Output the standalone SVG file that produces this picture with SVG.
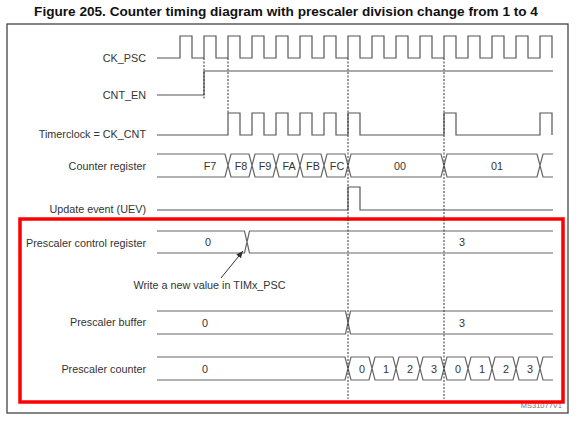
<svg xmlns="http://www.w3.org/2000/svg" width="578" height="424" viewBox="0 0 578 424">
<style>
.lbl{font-family:"Liberation Sans",Arial,sans-serif;font-size:10.8px;fill:#333;text-anchor:end}
.val{font-family:"Liberation Sans",Arial,sans-serif;font-size:10.8px;fill:#333;text-anchor:middle}
.sig{fill:none;stroke:#555;stroke-width:1.2}
.bus{fill:none;stroke:#666;stroke-width:1.2}
.dash{fill:none;stroke:#333;stroke-width:1;stroke-dasharray:2 1.5}
</style>
<defs>
<marker id="ah" markerWidth="8" markerHeight="8" refX="7" refY="4" orient="auto" markerUnits="userSpaceOnUse">
<path d="M0,1 L7,4 L0,7 Z" fill="#333"/>
</marker>
</defs>
<rect width="578" height="424" fill="#fff"/>
<text x="286" y="15.5" font-family="Liberation Sans,Arial,sans-serif" font-size="13.6" font-weight="bold" text-anchor="middle" fill="#111">Figure 205. Counter timing diagram with prescaler division change from 1 to 4</text>
<rect x="7" y="24" width="561" height="389" fill="none" stroke="#444" stroke-width="1.3"/>

<g id="ck_psc">
<text class="lbl" x="146" y="62">CK_PSC</text>
<path class="sig" d="M157,58 H180V36H192V58 H204V36H216V58 H228V36H240V58 H252V36H264V58 H276V36H288V58 H300V36H312V58 H324V36H336V58 H348V36H360V58 H372V36H384V58 H396V36H408V58 H420V36H432V58 H444V36H456V58 H468V36H480V58 H492V36H504V58 H516V36H528V58 H540V36H552V58"/>
</g>
<g id="cnt_en">
<text class="lbl" x="146" y="99">CNT_EN</text>
<path class="sig" d="M157,95 H204 V71 H553"/>
</g>
<g id="timerclock">
<text class="lbl" x="146" y="138">Timerclock = CK_CNT</text>
<path class="sig" d="M157,135 H228V113H240V135 H252V113H264V135 H276V113H288V135 H300V113H312V135 H324V113H336V135 H348V113H360V135 H444V113H456V135 H540V113H552V135"/>
</g>
<g id="counter_register">
<text class="lbl" x="146" y="170">Counter register</text>
<path class="bus" d="M157,154 H225 L228,165.5 L225,177 H157
M231,154 H249 L252,165.5 L249,177 H231 L228,165.5 Z
M255,154 H273 L276,165.5 L273,177 H255 L252,165.5 Z
M279,154 H297 L300,165.5 L297,177 H279 L276,165.5 Z
M303,154 H321 L324,165.5 L321,177 H303 L300,165.5 Z
M327,154 H345 L348,165.5 L345,177 H327 L324,165.5 Z
M351,154 H441 L444,165.5 L441,177 H351 L348,165.5 Z
M447,154 H537 L540,165.5 L537,177 H447 L444,165.5 Z
M553,154 H543 L540,165.5 L543,177 H553"/>
<text class="val" x="210" y="169.5">F7</text>
<text class="val" x="241" y="169.5">F8</text>
<text class="val" x="265" y="169.5">F9</text>
<text class="val" x="289" y="169.5">FA</text>
<text class="val" x="313" y="169.5">FB</text>
<text class="val" x="337" y="169.5">FC</text>
<text class="val" x="400" y="169.5">00</text>
<text class="val" x="497" y="169.5">01</text>
</g>
<g id="update_event">
<text class="lbl" x="146" y="213">Update event (UEV)</text>
<path class="sig" d="M157,210 H348 V187 H360 V210 H553"/>
</g>

<text x="562" y="408" font-family="Liberation Sans,Arial,sans-serif" font-size="7.5" fill="#777" text-anchor="end">MS31077V1</text>
<rect id="highlight" x="20" y="219" width="543" height="183" fill="none" stroke="#ff0000" stroke-width="3.5"/>

<g id="prescaler_control">
<text class="lbl" x="146" y="246.5">Prescaler control register</text>
<path class="bus" d="M157,231 H244.5 L247,242 L244.5,253 H157
M553,231 H249.5 L247,242 L249.5,253 H553"/>
<text class="val" x="208" y="246">0</text>
<text class="val" x="462" y="246">3</text>
</g>
<g id="prescaler_buffer">
<text class="lbl" x="146" y="326">Prescaler buffer</text>
<path class="bus" d="M157,311 H345.5 L348,322.5 L345.5,334 H157
M553,311 H350.5 L348,322.5 L350.5,334 H553"/>
<text class="val" x="205" y="326.5">0</text>
<text class="val" x="462" y="326.5">3</text>
</g>
<g id="prescaler_counter">
<text class="lbl" x="146" y="373">Prescaler counter</text>
<path class="bus" d="M157,357 H345 L348,368.5 L345,380 H157
M351,357 H369 L372,368.5 L369,380 H351 L348,368.5 Z
M375,357 H393 L396,368.5 L393,380 H375 L372,368.5 Z
M399,357 H417 L420,368.5 L417,380 H399 L396,368.5 Z
M423,357 H441 L444,368.5 L441,380 H423 L420,368.5 Z
M447,357 H465 L468,368.5 L465,380 H447 L444,368.5 Z
M471,357 H489 L492,368.5 L489,380 H471 L468,368.5 Z
M495,357 H513 L516,368.5 L513,380 H495 L492,368.5 Z
M519,357 H537 L540,368.5 L537,380 H519 L516,368.5 Z
M553,357 H543 L540,368.5 L543,380 H553"/>
<text class="val" x="205" y="372.5">0</text>
<text class="val" x="362" y="372.5">0</text>
<text class="val" x="386" y="372.5">1</text>
<text class="val" x="410" y="372.5">2</text>
<text class="val" x="434" y="372.5">3</text>
<text class="val" x="458" y="372.5">0</text>
<text class="val" x="482" y="372.5">1</text>
<text class="val" x="506" y="372.5">2</text>
<text class="val" x="530" y="372.5">3</text>
</g>
<g id="note">
<text class="val" x="209.5" y="289">Write a new value in TIMx_PSC</text>
</g>

<g id="connectors">
<line class="dash" x1="204" y1="58" x2="204" y2="100"/>
<line class="dash" x1="228" y1="58" x2="228" y2="113"/>
<line class="dash" x1="348" y1="58" x2="348" y2="399"/>
<line class="dash" x1="444" y1="58" x2="444" y2="399"/>
<line x1="221" y1="278" x2="243" y2="251" stroke="#333" stroke-width="1" marker-end="url(#ah)"/>
</g>
</svg>
